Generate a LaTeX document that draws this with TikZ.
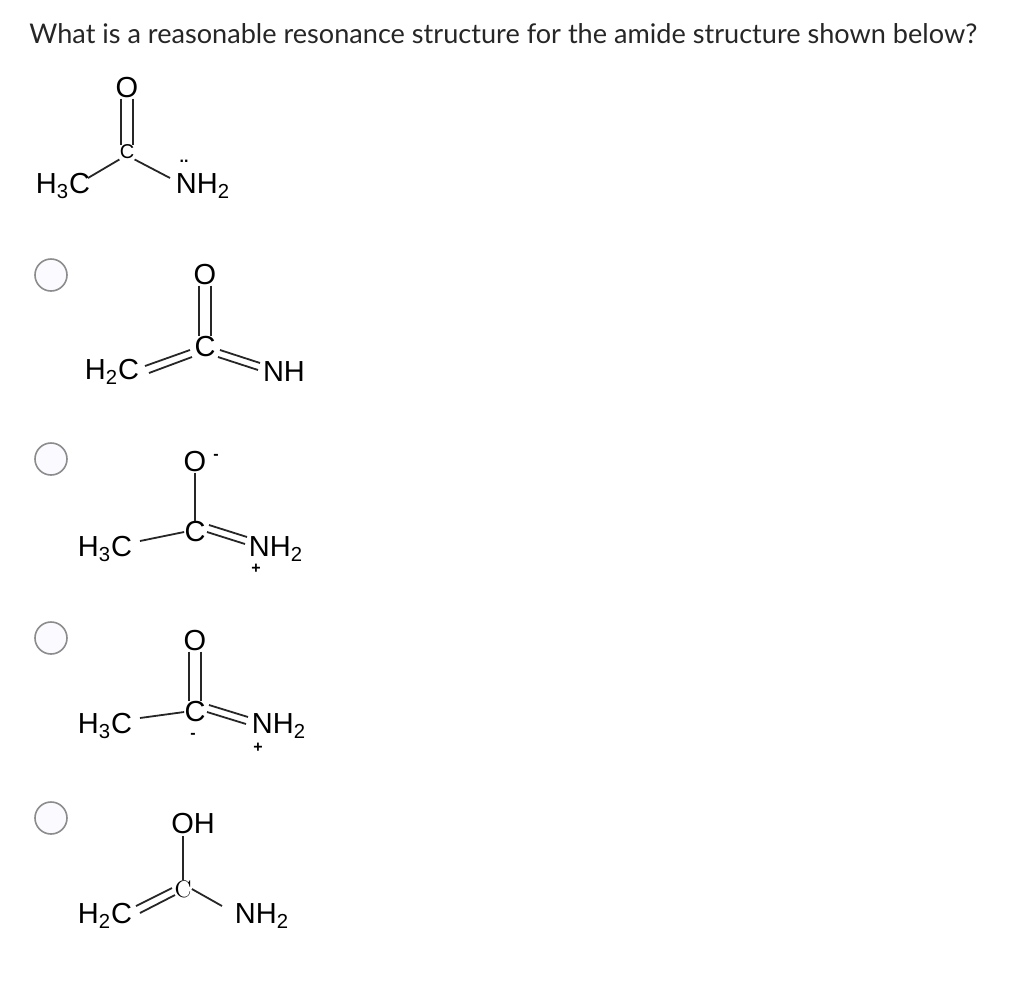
\documentclass[tikz,border=0pt]{standalone}
\usepackage{fontspec}
\setmainfont{Liberation Sans}
\newfontfamily\titlefont{Lato}
\newcommand{\sbs}[1]{\textsubscript{#1}}
\begin{document}
\begin{tikzpicture}[x=0.5pt,y=-0.5pt,
  atom/.style={inner sep=0pt,font=\fontsize{14.5}{15}\selectfont},
  small/.style={inner sep=0pt,font=\fontsize{10}{10}\selectfont},
  chg/.style={inner sep=0pt,font=\fontsize{8}{8}\selectfont\bfseries},
  bond/.style={line width=0.9pt,black!85},
  radio/.style={circle,draw=black!45,fill=blue!2,line width=0.8pt,minimum size=16pt,inner sep=0pt}]
\useasboundingbox (0,0) rectangle (1024,981);
\node[anchor=west,inner sep=0pt,font=\titlefont\fontsize{13.55}{15}\selectfont,text=black!85] (title) at (29,34) {What is a reasonable resonance structure for the amide structure shown below?};
% structure 1
\node[atom] (o1) at (127,88) {O};
\node[small] (c1) at (127,152) {C};
\node[atom] (m1) at (63,186) {H\sbs{3}C};
\node[atom] (n1) at (203,186) {NH\sbs{2}};
\node[chg] (lp1) at (184,161) {..};
\draw[bond] ([xshift=-3]o1.south) -- ([xshift=-3]c1.north);
\draw[bond] ([xshift=3]o1.south) -- ([xshift=3]c1.north);
\draw[bond] (c1.south west) -- (88,178) coordinate (m1e);
\draw[bond] (c1.south east) -- (170,178) coordinate (n1e);
% radios
\node[radio] (r1) at (51,275) {};
\node[radio] (r2) at (51,459) {};
\node[radio] (r3) at (51,638) {};
\node[radio] (r4) at (51,818) {};
% structure 2
\node[atom] (o2) at (205,275) {O};
\node[atom] (c2) at (205,347) {C};
\node[atom] (m2) at (112,372) {H\sbs{2}C};
\node[atom] (n2) at (284,372) {NH};
\draw[bond] ([xshift=-3]o2.south) -- ([xshift=-3]c2.north);
\draw[bond] ([xshift=3]o2.south) -- ([xshift=3]c2.north);
\draw[bond] (145,366) -- (190,350);
\draw[bond] (149,373) -- (192,357);
\draw[bond] (220,350) -- (260,363);
\draw[bond] (218,357) -- (258,370);
% structure 3
\node[atom] (o3) at (195,462) {O};
\node[chg] (mi3) at (216,457) {-};
\node[atom] (c3) at (195,532) {C};
\node[atom] (m3) at (105,549) {H\sbs{3}C};
\node[atom] (n3) at (276,549) {NH\sbs{2}};
\node[chg] (p3) at (256,569) {+};
\draw[bond] (o3.south) -- (c3.north);
\draw[bond] (c3.west) -- (140,541);
\draw[bond] (209,525) -- (247,537);
\draw[bond] (207,532) -- (245,544);
% structure 4
\node[atom] (o4) at (195,641) {O};
\node[atom] (c4) at (195,712) {C};
\node[chg] (mi4) at (193,736) {-};
\node[atom] (m4) at (105,726) {H\sbs{3}C};
\node[atom] (n4) at (279,726) {NH\sbs{2}};
\node[chg] (p4) at (258,748) {+};
\draw[bond] ([xshift=-3]o4.south) -- ([xshift=-3]c4.north);
\draw[bond] ([xshift=3]o4.south) -- ([xshift=3]c4.north);
\draw[bond] (c4.west) -- (140,718);
\draw[bond] (209,705) -- (248,717);
\draw[bond] (207,712) -- (246,724);
% structure 5
\node[atom] (o5) at (193,824) {OH};
\node[inner sep=0pt,font=\fontfamily{lmr}\fontsize{12}{12}\selectfont] (c5) at (183,889) {C};
\node[atom] (m5) at (105,916) {H\sbs{2}C};
\node[atom] (n5) at (262,916) {NH\sbs{2}};
\draw[bond] (183,836) -- (c5.north);
\draw[bond] (136,906) -- (172,888);
\draw[bond] (140,913) -- (175,895);
\draw[bond] (c5.east) -- (222,906);
\end{tikzpicture}
\end{document}
